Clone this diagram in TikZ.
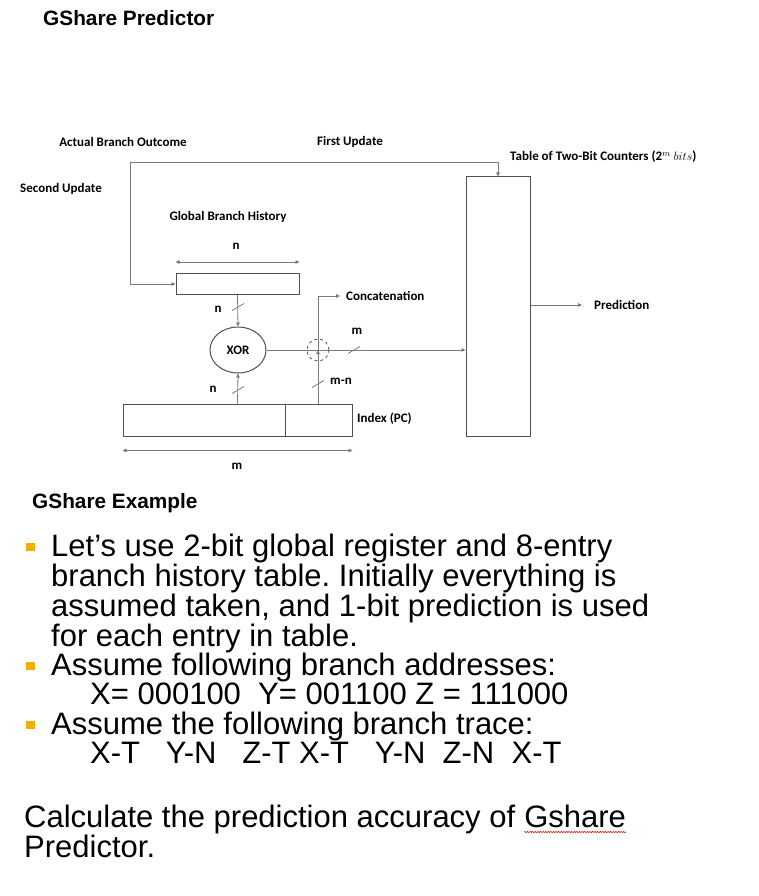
\documentclass[tikz,border=0pt]{standalone}
\usepackage{fontspec}
\setmainfont{Liberation Sans}
\newfontfamily\calibri{Carlito}
\usetikzlibrary{arrows.meta,shapes.geometric,decorations.pathmorphing}
\definecolor{bulletorange}{HTML}{F5AE00}
\definecolor{wiregray}{HTML}{7A7A7A}
\definecolor{boxgray}{HTML}{505050}
\frenchspacing
\begin{document}
\begin{tikzpicture}[x=1pt, y=-1pt,
  lbl/.style={font=\calibri\bfseries\fontsize{13}{15}\selectfont, inner sep=0pt},
  box/.style={draw=boxgray, line width=1pt, inner sep=0pt},
  wire/.style={draw=wiregray, line width=0.8pt},
  arr/.style={wire, -{Triangle[length=4pt,width=3.5pt]}},
  dim/.style={wire, {Triangle[length=4pt,width=3.5pt]}-{Triangle[length=4pt,width=3.5pt]}},
  head/.style={font=\bfseries\fontsize{20.8}{23}\selectfont, inner sep=0pt, anchor=base west},
  body/.style={font=\fontsize{31}{33}\selectfont, inner sep=0pt, anchor=base west},
  bullet/.style={fill=bulletorange, minimum size=8.5pt, inner sep=0pt}]
\useasboundingbox (0,0) rectangle (758,896);

% headings
\node[head] (title) at (43,26) {GShare Predictor};
\node[head] (example) at (32,508) {GShare Example};

% gshare block diagram
\node[box, minimum width=123pt, minimum height=21pt] (ghr) at (237.5,284) {};
\node[box, minimum width=229pt, minimum height=32pt] (pc) at (237.5,420) {};
\draw[box] ([xshift=163pt]pc.north west) -- ([xshift=163pt]pc.south west);
\node[box, minimum width=64pt, minimum height=259pt] (pht) at (498,306.5) {};
\node[ellipse, draw=boxgray, line width=1pt, minimum width=56pt, minimum height=46pt,
  font=\calibri\bfseries\fontsize{13}{15}\selectfont] (xor) at (238,350) {XOR};
\node[circle, draw=boxgray, dashed, line width=0.8pt, minimum size=22pt] (cat) at (318,350) {};
\coordinate (fb) at (130,162);

\node[lbl] (outcome) at (123,142) {Actual Branch Outcome};
\node[lbl] (first) at (350,142) {First Update};
\node[lbl, anchor=east] (second) at (102,189) {Second Update};
\node[lbl] (ghrname) at (228,217) {Global Branch History};
\node[lbl, anchor=west] (phtname) at (510,157) {Table of Two-Bit Counters (2$^{m}$ $bits$)};
\node[lbl, anchor=west] (concat) at (346,296) {Concatenation};
\node[lbl, anchor=west] (index) at (357,419) {Index (PC)};
\node[lbl, anchor=west] (pred) at (594,305) {Prediction};
\node[lbl] (nghr) at (236,246) {n};
\node[lbl] (nup) at (218,309) {n};
\node[lbl] (ndown) at (213,389) {n};
\node[lbl] (mcat) at (357,331) {m};
\node[lbl] (mn) at (341,381) {m-n};
\node[lbl] (mpc) at (237,466) {m};

\draw[arr] (fb) |- (ghr.west);
\draw[arr] (fb) -| (pht.north);
\draw[arr] (ghr.south) -- (xor.north);
\draw[arr] (pc.north) -- (xor.south);
\draw[arr] (xor.east) -- (xor.east -| pht.west);
\draw[arr] (cat.center |- pc.north) -- (cat.center);
\draw[arr, shorten >=6pt] (cat.center) |- (concat.west);
\draw[arr, shorten >=12pt] (pht.east |- pred.west) -- (pred.west);
\draw[dim] ([yshift=11pt]ghr.north west) -- ([yshift=11pt]ghr.north east);
\draw[dim] ([yshift=-14pt]pc.south west) -- ([yshift=-14pt]pc.south east);
\foreach \p in {(238,307),(238,390),(318,384),(354,350)}
  \draw[wire] \p ++(-6,3.5) -- ++(12,-7);

% example text
\foreach \y in {547,666,725}
  \node[bullet] at (30.5,\y) {};
\node[body] (l1) at (51,556) {Let’s use 2-bit global register and 8-entry};
\node[body] (l2) at (51,586) {branch history table. Initially everything is};
\node[body] (l3) at (51,616) {assumed taken, and 1-bit prediction is used};
\node[body] (l4) at (51,646) {for each entry in table.};
\node[body] (l5) at (51,675) {Assume following branch addresses:};
\node[body] (l6) at (90,704) {X= 000100\ \ Y= 001100 Z = 111000};
\node[body] (l7) at (51,734) {Assume the following branch trace:};
\node[body] (l8) at (90,763) {X-T\ \ \ Y-N\ \ \ Z-T X-T\ \ \ Y-N\ \ Z-N\ \ X-T};
\node[body] (q1) at (24,827) {Calculate the prediction accuracy of};
\node[body] (gsh) at ([xshift=8.6pt]q1.base east) {Gshare};
\node[body] (q2) at (24,857) {Predictor.};
\draw[red, line width=0.5pt, decorate, decoration={snake, amplitude=0.7pt, segment length=2.6pt}]
  ([yshift=-5pt]gsh.base west) -- ([yshift=-5pt]gsh.base east);
\end{tikzpicture}
\end{document}
